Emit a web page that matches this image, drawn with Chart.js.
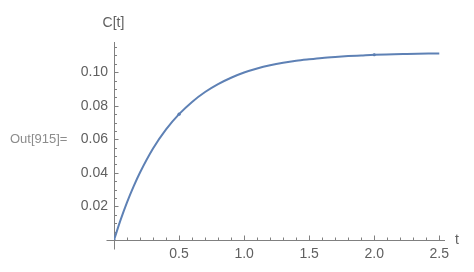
<!DOCTYPE html>
<html><head><meta charset="utf-8">
<script src="https://cdn.jsdelivr.net/npm/chart.js@4"></script>
<style>html,body{margin:0;padding:0;background:#fff}#wrap{width:474px;height:272px;position:relative}</style>
</head><body><div id="wrap"><canvas id="c"></canvas></div>
<script>
// Curve C[t]
const tValues = [0, 0.05, 0.1, 0.15, 0.2, 0.3, 0.4, 0.5, 0.6, 0.7, 0.8, 0.9, 1.0, 1.1, 1.2, 1.3, 1.4, 1.5, 1.6, 1.7, 1.8, 1.9, 2.0, 2.25, 2.5];
const cValues = [0, 0.0118, 0.0224, 0.0318, 0.0402, 0.0545, 0.0659, 0.0750, 0.0823, 0.0882, 0.0929, 0.0967, 0.0998, 0.1022, 0.1041, 0.1056, 0.1068, 0.1077, 0.1085, 0.1091, 0.1096, 0.1100, 0.1104, 0.1109, 0.1112];
// Marked points
const markerT = [0, 0.5, 2.0];
const markerC = [0, 0.0750, 0.1104];
// Tick labels
const xTickLabels = ['0.5', '1.0', '1.5', '2.0', '2.5'];
const yTickLabels = ['0.02', '0.04', '0.06', '0.08', '0.10'];
const xMinorStep = 0.1;
const yMinorStep = 0.005;

const curve = tValues.map((t, i) => ({x: t, y: cValues[i]}));
const marks = markerT.map((t, i) => ({x: t, y: markerC[i]}));

const FONT = 'Liberation Sans, Arial, sans-serif';
const axisColor = '#808080';
const labelColor = '#606060';

const axesPlugin = {
  id: 'mmaAxes',
  beforeDatasetsDraw(chart) {
    const ctx = chart.ctx, xs = chart.scales.x, ys = chart.scales.y;
    const x0 = Math.round(xs.getPixelForValue(0)) + 0.5;
    const y0 = Math.round(ys.getPixelForValue(0)) + 0.5;
    const xEnd = xs.getPixelForValue(xs.max);
    const yEnd = ys.getPixelForValue(ys.max);
    ctx.save();
    ctx.strokeStyle = axisColor;
    ctx.lineWidth = 1;
    ctx.beginPath();
    ctx.moveTo(x0 - 8, y0); ctx.lineTo(xEnd, y0);
    ctx.moveTo(x0, y0 + 9); ctx.lineTo(x0, yEnd);
    for (let i = 1; i * xMinorStep <= xs.max + 1e-9; i++) {
      const px = Math.round(xs.getPixelForValue(i * xMinorStep)) + 0.5;
      const len = (i % 5 === 0) ? 5 : 3;
      ctx.moveTo(px, y0); ctx.lineTo(px, y0 - len);
    }
    for (let j = 1; j * yMinorStep <= ys.max + 1e-9; j++) {
      const py = Math.round(ys.getPixelForValue(j * yMinorStep)) + 0.5;
      const len = (j % 4 === 0) ? 4 : 2.5;
      ctx.moveTo(x0, py); ctx.lineTo(x0 + len, py);
    }
    ctx.stroke();
    // axis labels
    ctx.fillStyle = labelColor;
    ctx.font = '14px ' + FONT;
    ctx.textBaseline = 'middle';
    ctx.textAlign = 'center';
    ctx.fillText('C[t]', x0 - 1, yEnd - 19);
    ctx.textAlign = 'left';
    ctx.fillText('t', xEnd + 10, y0);
    ctx.fillStyle = '#8c8c8c';
    ctx.font = '13px ' + FONT;
    ctx.fillText('Out[915]=', 10, ys.getPixelForValue(0.06));
    ctx.restore();
  }
};

new Chart(document.getElementById('c'), {
  type: 'line',
  data: {
    datasets: [
      {data: curve, borderColor: '#5E81B5', borderWidth: 2, pointRadius: 0, fill: false, cubicInterpolationMode: 'monotone'},
      {data: marks, showLine: false, pointRadius: 1.6, pointBackgroundColor: '#4b6ea5', pointBorderWidth: 0}
    ]
  },
  options: {
    responsive: true, maintainAspectRatio: false, animation: false,
    layout: {padding: {top: 42, right: 29, left: 0, bottom: 0}},
    plugins: {legend: {display: false}, tooltip: {enabled: false}},
    scales: {
      x: {
        type: 'linear', min: 0, max: 2.544,
        afterBuildTicks: s => { s.ticks = xTickLabels.map(v => ({value: parseFloat(v)})); },
        afterFit: s => { s.height = 32; },
        grid: {display: false, drawTicks: false}, border: {display: false},
        ticks: {callback: v => v.toFixed(1), color: labelColor, font: {family: FONT, size: 14}, padding: 6, maxRotation: 0, autoSkip: false}
      },
      y: {
        type: 'linear', min: 0, max: 0.118,
        afterBuildTicks: s => { s.ticks = yTickLabels.map(v => ({value: parseFloat(v)})); },
        afterFit: s => { s.width = 114; },
        grid: {display: false, drawTicks: false}, border: {display: false},
        ticks: {callback: v => v.toFixed(2), color: labelColor, font: {family: FONT, size: 14}, padding: 6, autoSkip: false}
      }
    }
  },
  plugins: [axesPlugin]
});
</script></body></html>
